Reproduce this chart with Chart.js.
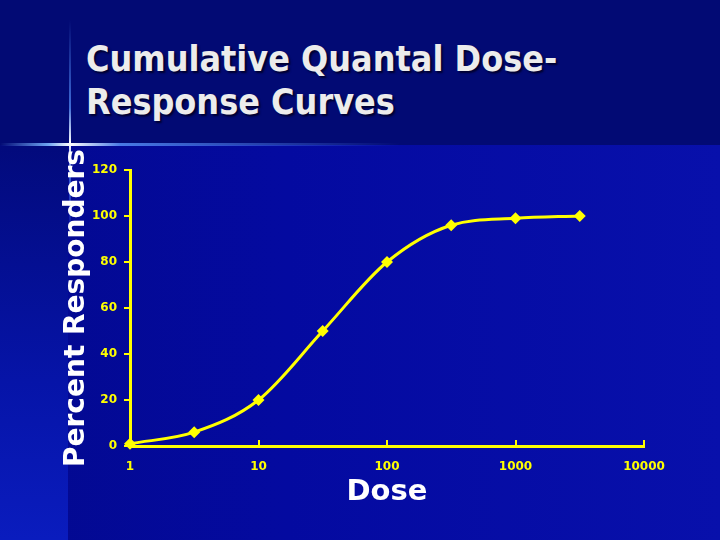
<!DOCTYPE html>
<html>
<head>
<meta charset="utf-8">
<script src="https://cdn.jsdelivr.net/npm/chart.js@4"></script>
<style>
  html, body { margin: 0; padding: 0; }
  body { width: 720px; height: 540px; overflow: hidden; position: relative;
         background: linear-gradient(90deg, #03098f 0%, #040aa0 40%, #0810ab 100%); }
  #top { position: absolute; left: 0; top: 0; width: 720px; height: 145px; background: #020a74; }
  #strip { position: absolute; left: 0; top: 145px; width: 68px; height: 395px;
           background: linear-gradient(180deg, #020a7c 0%, #0614a8 60%, #0a1cbe 100%); }
  #hline { position: absolute; left: 0; top: 143px; width: 400px; height: 3px;
           background: linear-gradient(90deg, rgba(80,140,255,0) 0%, rgba(120,180,255,0.9) 12%, #ffffff 17.5%, rgba(90,150,255,0.8) 30%, rgba(60,110,255,0) 100%); }
  #vline { position: absolute; left: 69px; top: 20px; width: 2px; height: 220px;
           background: linear-gradient(180deg, rgba(60,110,255,0) 0%, rgba(90,150,255,0.7) 40%, #ffffff 56%, rgba(90,150,255,0.6) 70%, rgba(60,110,255,0) 100%); }
  #title { position: absolute; left: 86px; top: 38px; color: #ececec;
           font: bold 35px "DejaVu Sans", sans-serif; line-height: 43px;
           transform: scaleX(0.915); transform-origin: left top;
           text-shadow: 2px 2px 2px #000030; white-space: nowrap; }
  canvas { position: absolute; left: 0; top: 0; }
</style>
</head>
<body>
<div id="top"></div>
<div id="strip"></div>
<div id="hline"></div>
<div id="vline"></div>
<div id="title">Cumulative Quantal Dose-<br>Response Curves</div>
<canvas id="myChart" width="720" height="540"></canvas>
<script>
var doses = [1, 3.16, 10, 31.6, 100, 316, 1000, 3162];
var responders = [1, 6, 20, 50, 80, 96, 99, 100];
var xTicks = [1, 10, 100, 1000, 10000];
var yTicks = [0, 20, 40, 60, 80, 100, 120];

var points = [];
for (var i = 0; i < doses.length; i++) {
    points.push({ x: doses[i], y: responders[i] });
}

var yellow = '#ffff00';
var tickFont = { family: 'DejaVu Sans', weight: 'bold', size: 12 };

const ctx = document.getElementById('myChart');
const myChart = new Chart(ctx, {
    type: 'line',
    data: {
        datasets: [{
            label: 'Percent Responders',
            data: points,
            borderColor: yellow,
            backgroundColor: yellow,
            borderWidth: 3,
            cubicInterpolationMode: 'monotone',
            pointStyle: 'rectRot',
            pointRadius: 6,
            pointBorderWidth: 0,
            clip: false
        }]
    },
    options: {
        responsive: false,
        animation: false,
        layout: {
            padding: { left: 0, right: 76, top: 170, bottom: 0 }
        },
        plugins: {
            legend: { display: false },
            tooltip: { enabled: false }
        },
        scales: {
            x: {
                type: 'logarithmic',
                min: 1,
                max: 10000,
                afterBuildTicks: function (scale) {
                    scale.ticks = xTicks.map(function (v) { return { value: v }; });
                },
                afterFit: function (scale) { scale.height = 94; },
                ticks: {
                    color: yellow,
                    font: tickFont,
                    padding: 20,
                    maxRotation: 0,
                    autoSkip: false,
                    callback: function (value) { return String(value); }
                },
                grid: {
                    drawOnChartArea: false,
                    color: yellow,
                    lineWidth: 2,
                    tickLength: -6
                },
                border: { color: yellow, width: 3 },
                title: {
                    display: true,
                    text: 'Dose',
                    color: '#ffffff',
                    font: { family: 'DejaVu Sans', weight: 'bold', size: 29 },
                    padding: { top: 0, bottom: 30 }
                }
            },
            y: {
                min: 0,
                max: 120,
                afterBuildTicks: function (scale) {
                    scale.ticks = yTicks.map(function (v) { return { value: v }; });
                },
                afterFit: function (scale) { scale.width = 130; },
                ticks: {
                    color: yellow,
                    font: tickFont,
                    padding: 7
                },
                grid: {
                    drawOnChartArea: false,
                    color: yellow,
                    lineWidth: 2,
                    tickLength: 6
                },
                border: { color: yellow, width: 3 },
                title: {
                    display: true,
                    text: 'Percent Responders',
                    color: '#ffffff',
                    font: { family: 'DejaVu Sans', weight: 'bold', size: 28 },
                    padding: { top: 60, bottom: 0 }
                }
            }
        }
    }
});
</script>
</body>
</html>
